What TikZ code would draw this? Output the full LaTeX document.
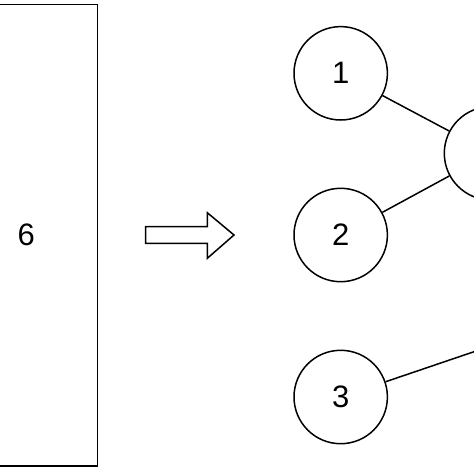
\documentclass[tikz,border=0pt]{standalone}
\usepackage{fontspec}
\setmainfont{Liberation Sans}
\begin{document}
\begin{tikzpicture}[x=1pt,y=-1pt,
  ball/.style={circle,draw,line width=1.5pt,minimum size=93.4pt,inner sep=0pt,font=\fontsize{31}{36}\selectfont},
  link/.style={line width=1.5pt},
  box/.style={draw,line width=1.8pt},
  label/.style={font=\fontsize{31}{36}\selectfont,inner sep=0pt}]
\useasboundingbox (0,0) rectangle (474,474);
\clip (0,0) rectangle (474,474);
\draw[box] (-10,4.5) rectangle (97.5,466);
\node[label] (six) at (26.3,235) {6};
\draw[line width=1.5pt,line join=miter] (145.7,226.7) -- (207.3,226.7) -- (207.3,212.7) -- (234,235) -- (207.3,258.3) -- (207.3,243.3) -- (145.7,243.3) -- cycle;
\node[ball] (n1) at (340.7,73.3) {1};
\node[ball] (n2) at (340.7,235) {2};
\node[ball] (n3) at (340.7,397) {3};
\node[ball] (r) at (491,153.3) {};
\coordinate (off) at (607.3,306.4);
\draw[link] (n1) -- (r);
\draw[link] (n2) -- (r);
\draw[link] (n3) -- (off);
\end{tikzpicture}
\end{document}
